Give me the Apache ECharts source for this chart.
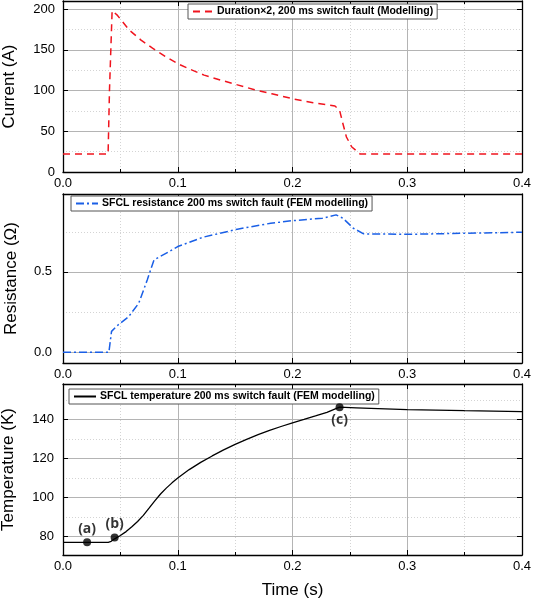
<!DOCTYPE html>
<html>
<head>
<meta charset="utf-8">
<script src="https://cdn.jsdelivr.net/npm/echarts@6/dist/echarts.min.js"></script>
<style>
  html, body { margin: 0; padding: 0; background: #fff; }
  #chart { width: 533px; height: 603px; }
</style>
</head>
<body>
<div id="chart"></div>
<script>
// current (A) vs time (s)
let curTime = [0, 0.0393, 0.0405, 0.0428, 0.0445, 0.047, 0.058, 0.068, 0.078, 0.089, 0.1, 0.111, 0.123, 0.137, 0.152, 0.167, 0.182, 0.2, 0.218, 0.237, 0.241, 0.244, 0.247, 0.2515, 0.259, 0.4]
let curVal = [22, 22, 100, 198, 197, 193, 174, 162, 152, 142, 133, 126, 119, 113, 107, 101, 96, 90, 85, 81, 76, 59, 43, 31, 22, 22]
// resistance (ohm)
let resTime = [0, 0.040, 0.0423, 0.048, 0.057, 0.066, 0.0734, 0.0793, 0.0926, 0.1, 0.122, 0.152, 0.181, 0.2, 0.226, 0.238, 0.244, 0.253, 0.262, 0.3, 0.4]
let resVal = [0, 0, 0.13, 0.17, 0.22, 0.305, 0.45, 0.575, 0.627, 0.658, 0.716, 0.766, 0.803, 0.819, 0.834, 0.855, 0.834, 0.772, 0.737, 0.734, 0.747]
// temperature (K)
let tmpTime = [0, 0.0394, 0.042, 0.045, 0.05, 0.055, 0.06, 0.065, 0.07, 0.075, 0.08, 0.085, 0.09, 0.095, 0.1, 0.11, 0.12, 0.13, 0.14, 0.15, 0.16, 0.17, 0.18, 0.19, 0.2, 0.21, 0.22, 0.23, 0.241, 0.2555, 0.3, 0.35, 0.4]
let tmpVal = [77, 77, 77.5, 78.8, 80.5, 82.5, 85, 87.7, 90.8, 94.5, 98.3, 101.8, 104.8, 107.5, 110, 114.3, 118, 121.3, 124.4, 127.2, 129.8, 132.2, 134.4, 136.4, 138.3, 140, 141.8, 143.7, 146.3, 146, 145.1, 144.5, 144]
// marked points (a) (b) (c)
let markNames = ['(a)', '(b)', '(c)']
let markTime = [0.021, 0.045, 0.241]
let markTemp = [77, 79.5, 146.3]

// tick values
let curMajor = [0, 50, 100, 150, 200]
let curMinor = [25, 75, 125, 175]
let resMajor = [0, 0.5]
let resMinor = [0.25, 0.75]
let tmpMajor = [80, 100, 120, 140]
let tmpMinor = [90, 110, 130, 150]

const FONT = 'Liberation Sans'
const pair = (xs, ys) => xs.map((x, i) => [x, ys[i]])

let chart = echarts.init(document.getElementById('chart'))

// fixed plot boxes, no auto shrinking for labels
let grids = [
  {left: 63, right: 11, top: 1, height: 171, containLabel: false, outerBoundsMode: 'none'},
  {left: 63, right: 11, top: 194, height: 169, containLabel: false, outerBoundsMode: 'none'},
  {left: 63, right: 11, top: 384, height: 171, containLabel: false, outerBoundsMode: 'none'}
]

function xBottom(g, withName) {
  return {
    type: 'value', gridIndex: g, min: 0, max: 0.4, interval: 0.1, position: 'bottom',
    name: withName ? 'Time (s)' : '', nameLocation: 'middle', nameGap: 27,
    nameTextStyle: {fontFamily: FONT, fontSize: 17, color: '#000'},
    axisLine: {onZero: false, lineStyle: {color: '#000', width: 1.3}},
    axisTick: {inside: true, length: 5, lineStyle: {color: '#000'}},
    minorTick: {show: true, splitNumber: 2, length: 3, lineStyle: {color: '#000'}},
    axisLabel: {margin: 5, fontFamily: FONT, fontSize: 13, color: '#000', formatter: v => v.toFixed(1)},
    splitLine: {show: true, lineStyle: {color: '#b4b4b4', width: 1}},
    minorSplitLine: {show: true, lineStyle: {color: '#d4d4d4', type: [1, 2]}}
  }
}

function xTop(g) {
  return {
    type: 'value', gridIndex: g, min: 0, max: 0.4, interval: 0.1, position: 'top',
    axisLine: {onZero: false, lineStyle: {color: '#000', width: 1.3}},
    axisTick: {inside: true, length: 5, lineStyle: {color: '#000'}},
    minorTick: {show: true, splitNumber: 2, length: 3, lineStyle: {color: '#000'}},
    axisLabel: {show: false},
    splitLine: {show: false}
  }
}

// left axis with labels, right axis for the box, hidden axis for minor grid
function yAxes(g, min, max, major, minor, name, gap, margin, fmt) {
  return [
    {
      type: 'value', gridIndex: g, min: min, max: max, position: 'left',
      name: name, nameLocation: 'middle', nameGap: gap,
      nameTextStyle: {fontFamily: FONT, fontSize: 17, color: '#000'},
      axisLine: {show: true, onZero: false, lineStyle: {color: '#000', width: 1.3}},
      axisTick: {show: true, inside: true, length: 5, customValues: major, lineStyle: {color: '#000'}},
      axisLabel: {margin: margin, fontFamily: FONT, fontSize: 13, color: '#000', customValues: major, formatter: fmt},
      splitLine: {show: true, lineStyle: {color: '#b4b4b4', width: 1}}
    },
    {
      type: 'value', gridIndex: g, min: min, max: max, position: 'right',
      axisLine: {show: true, onZero: false, lineStyle: {color: '#000', width: 1.3}},
      axisTick: {show: true, inside: true, length: 5, customValues: major, lineStyle: {color: '#000'}},
      axisLabel: {show: false},
      splitLine: {show: false}
    },
    {
      type: 'value', gridIndex: g, min: min, max: max, position: 'left',
      axisLine: {show: false},
      axisTick: {show: false, customValues: minor},
      axisLabel: {show: false},
      splitLine: {show: true, lineStyle: {color: '#d4d4d4', type: [1, 2]}}
    }
  ]
}

function legendFor(name, left, top, w) {
  return {
    data: [name], left: left, top: top, selectedMode: false,
    backgroundColor: '#fff', borderColor: '#555', borderWidth: 1, borderRadius: 0,
    padding: [2, 4], itemWidth: w, itemHeight: 10, itemGap: 4,
    // hide the round symbol that line series put in the legend icon
    itemStyle: {opacity: 0, color: 'rgba(0,0,0,0)', borderWidth: 0},
    textStyle: {fontFamily: FONT, fontSize: 10.5, fontWeight: 'bold', color: '#000', padding: [0, 0, 0, -1]}
  }
}

let curName = 'Duration\u00d72, 200 ms switch fault (Modelling)'
let resName = 'SFCL resistance 200 ms switch fault (FEM modelling)'
let tmpName = 'SFCL temperature 200 ms switch fault (FEM modelling)'

let option = {
  animation: false,
  backgroundColor: '#fff',
  grid: grids,
  legend: [
    legendFor(curName, 188, 4, 20),
    legendFor(resName, 71, 196, 22),
    legendFor(tmpName, 69, 389, 22)
  ],
  xAxis: [xBottom(0, false), xTop(0), xBottom(1, false), xTop(1), xBottom(2, true), xTop(2)],
  yAxis: [].concat(
    yAxes(0, 0, 210, curMajor, curMinor, 'Current (A)', 45, 8, v => v.toFixed(0)),
    yAxes(1, -0.067, 0.985, resMajor, resMinor, 'Resistance (\u03a9)', 43, 11, v => v.toFixed(1)),
    yAxes(2, 70.5, 158.2, tmpMajor, tmpMinor, 'Temperature (K)', 46, 9, v => v.toFixed(0))
  ),
  series: [
    {
      name: curName, type: 'line', xAxisIndex: 0, yAxisIndex: 0, symbol: 'none',
      lineStyle: {color: '#f0141e', width: 1.5, type: [7, 5]},
      itemStyle: {color: '#f0141e'},
      data: pair(curTime, curVal)
    },
    {
      name: resName, type: 'line', xAxisIndex: 2, yAxisIndex: 3, symbol: 'none',
      lineStyle: {color: '#1a5fe6', width: 1.5, type: [8, 3, 2, 3]},
      itemStyle: {color: '#1a5fe6'},
      data: pair(resTime, resVal)
    },
    {
      name: tmpName, type: 'line', xAxisIndex: 4, yAxisIndex: 6, symbol: 'none',
      lineStyle: {color: '#000', width: 1.3},
      itemStyle: {color: '#000'},
      data: pair(tmpTime, tmpVal)
    },
    {
      name: 'points', type: 'scatter', xAxisIndex: 4, yAxisIndex: 6,
      symbolSize: 8, itemStyle: {color: '#000'}, z: 5,
      label: {
        show: true, fontFamily: 'Open Sans', fontWeight: 'bold', fontSize: 14, color: '#000',
        distance: 2, formatter: p => p.data.name
      },
      data: markNames.map((n, i) => ({
        name: n, value: [markTime[i], markTemp[i]],
        label: {position: i === 2 ? 'bottom' : 'top'}
      }))
    }
  ]
}
chart.setOption(option)
</script>
</body>
</html>
